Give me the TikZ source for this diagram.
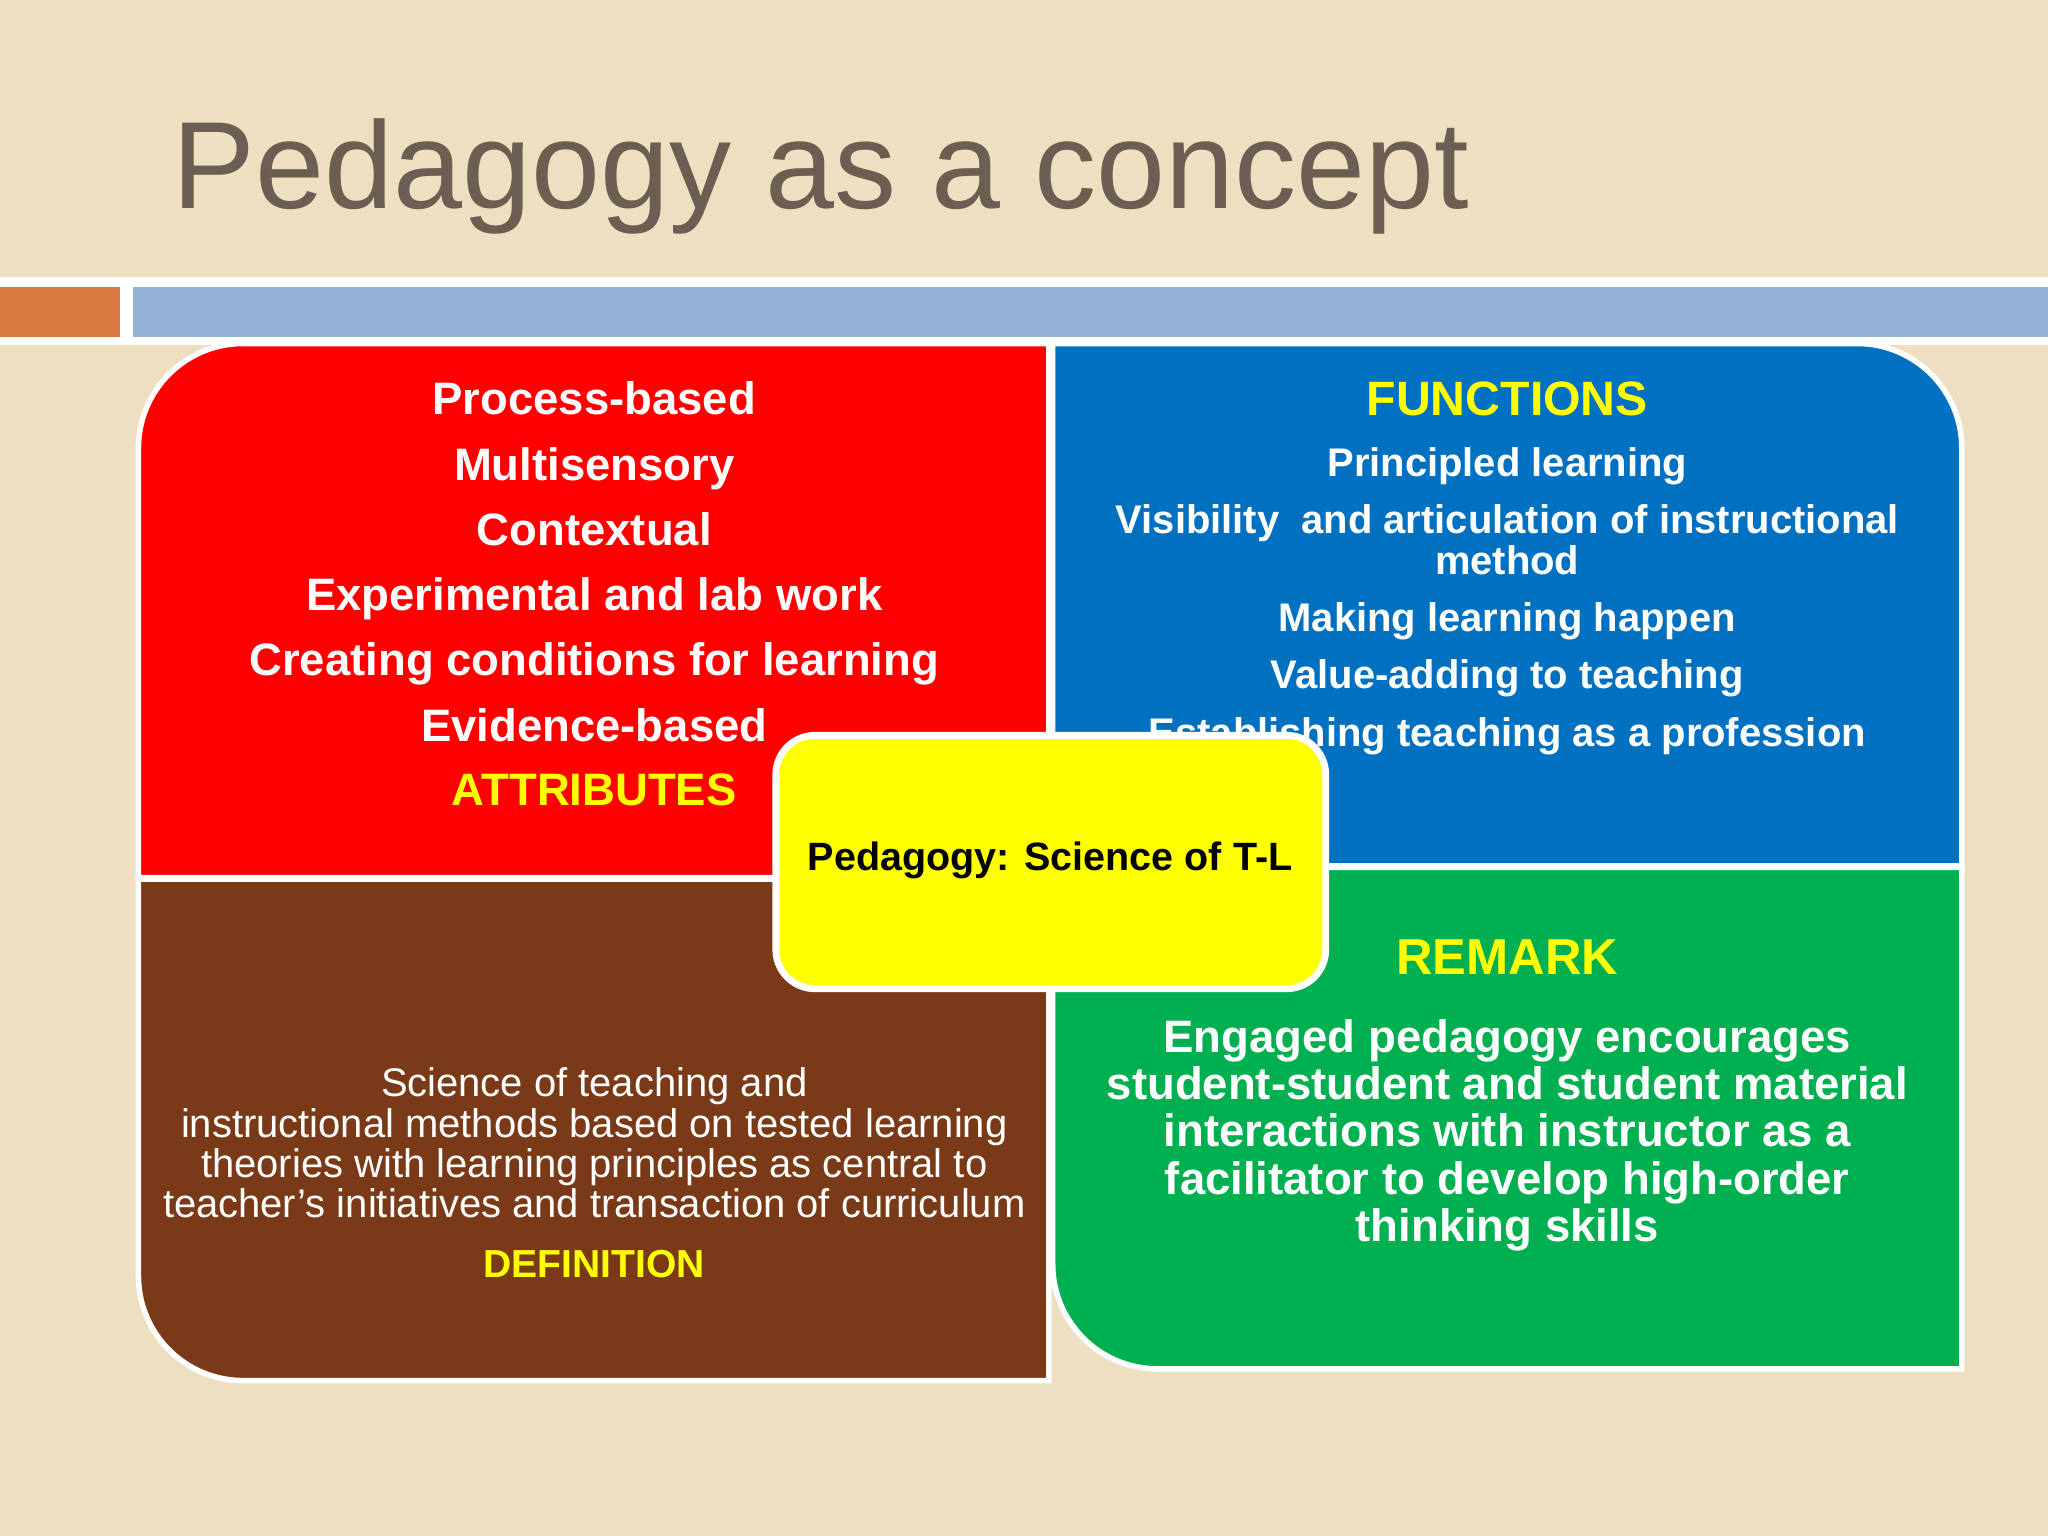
\documentclass[tikz,border=0pt]{standalone}
\usepackage{fontspec}
\setmainfont{Liberation Sans}
\usetikzlibrary{positioning}
\definecolor{paper}{HTML}{EEDFC0}
\definecolor{titlegrey}{HTML}{6B5E52}
\definecolor{barblue}{HTML}{95B3D7}
\definecolor{barorange}{HTML}{D9783F}
\definecolor{quadred}{HTML}{FF0000}
\definecolor{quadblue}{HTML}{0070C0}
\definecolor{quadbrown}{HTML}{7A3A17}
\definecolor{quadgreen}{HTML}{00B050}
\definecolor{hiyellow}{HTML}{FFFF00}
\tikzset{
  quad/.style={draw=white, line width=1.2pt},
  itemtxt/.style 2 args={text=white, font=\bfseries\fontsize{#1}{#2}\selectfont, align=center},
  headtxt/.style={text=hiyellow, font=\bfseries\fontsize{#1}{#1}\selectfont, align=center}
}
\begin{document}
\begin{tikzpicture}[x=0.01cm, y=-0.01cm]
  \useasboundingbox (0,0) rectangle (1568,1176);
  \fill [paper] (0,0) rectangle (1568,1176);

  % title and bars
  \node (title) [anchor=base west, text=titlegrey, font=\fontsize{27}{30}\selectfont]
    at (120,160) {Pedagogy as a concept};
  \fill [white] (0,212) rectangle (1568,264);
  \fill [barorange] (0,220) rectangle (92,258);
  \fill [barblue] (102,220) rectangle (1568,258);

  % quadrants
  \path [quad, fill=quadred]
    (803,263) -- (803,672) -- (106,672) [rounded corners=0.8cm] -- (106,263) [sharp corners] -- cycle;
  \path [quad, fill=quadblue]
    (806,263) [rounded corners=0.8cm] -- (1502,263) [sharp corners] -- (1502,663) -- (806,663) -- cycle;
  \path [quad, fill=quadbrown]
    (106,673) [rounded corners=0.8cm] -- (106,1057) [sharp corners] -- (803,1057) -- (803,673) -- cycle;
  \path [quad, fill=quadgreen]
    (806,664) -- (1502,664) -- (1502,1048) [rounded corners=0.8cm] -- (806,1048) [sharp corners] -- cycle;

  % attributes
  \node (attr) [itemtxt={9.9}{14.2}, anchor=north] at (455,280)
    {Process-based\\ Multisensory\\ Contextual\\
     Experimental and lab work\\ Creating conditions for learning\\ Evidence-based};
  \node (attrhead) [headtxt=9.9, below=0pt of attr] {ATTRIBUTES};

  % functions
  \node (funchead) [headtxt=10.5, anchor=north] at (1154,280) {FUNCTIONS};
  \node (func) [itemtxt={8.7}{8.8}, anchor=north] at (1154,330)
    {Principled learning\\[3.7pt] Visibility\ \ and articulation of instructional\\ method\\[3.7pt]
     Making learning happen\\[3.7pt] Value-adding to teaching\\[3.7pt] Establishing teaching as a profession};

  % remark
  \node (remhead) [headtxt=11, anchor=center] at (1154,733) {REMARK};
  \node (rem) [itemtxt={9.9}{10.3}, anchor=north] at (1154,768)
    {Engaged pedagogy encourages\\ student-student and student material\\
     interactions with instructor as a\\ facilitator to develop high-order\\ thinking skills};

  % definition
  \node (defn) [text=white, align=center, font=\fontsize{8.7}{8.8}\selectfont, anchor=north] at (455,805)
    {Science of teaching and\\ instructional methods based on tested learning\\
     theories with learning principles as central to\\ teacher’s initiatives and transaction of curriculum};
  \node (defnhead) [headtxt=8.5, below=0pt of defn] {DEFINITION};

  % centre
  \path [draw=white, line width=1.5pt, fill=hiyellow, rounded corners=0.3cm]
    (594,563) rectangle (1015,757);
  \node (centre) [font=\bfseries\fontsize{8.6}{9}\selectfont] at (804,659) {Pedagogy: Science of T-L};
\end{tikzpicture}
\end{document}
